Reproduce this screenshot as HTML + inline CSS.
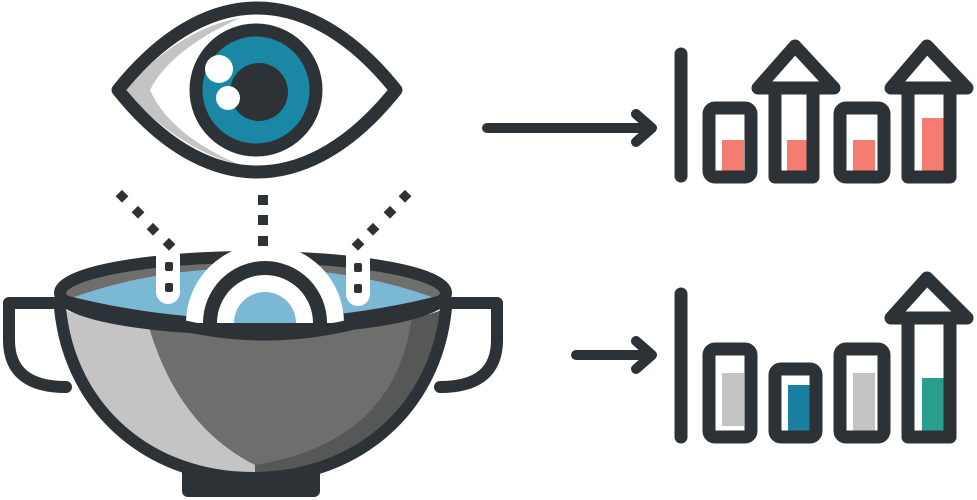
<!DOCTYPE html>
<html><head><meta charset="utf-8"><style>html,body{margin:0;padding:0;background:#fff}svg{display:block}</style></head>
<body>
<svg width="977" height="500" viewBox="0 0 977 500" xmlns="http://www.w3.org/2000/svg">
<defs>
<clipPath id="bowlc"><path d="M60,308 C70,410 150,478 253,478 C356,478 436,410 446,308 C380,340 126,340 60,308 Z"/></clipPath>
</defs>
<g stroke="#2c3236" stroke-linecap="round" stroke-linejoin="round" fill="none">
<!-- Eye -->
<path d="M118,90 C170,25 220,8 257,8 C294,8 344,25 396,90 C344,155 294,172 257,172 C220,172 170,155 118,90 Z" fill="#fff" stroke="none"/>
<path d="M125,90 C160,50 200,25 240,18 Q170,50 150,90 Q170,135 240,165 C200,155 160,130 125,90Z" fill="#c4c4c4" stroke="none"/>
<path d="M118,90 C170,25 220,8 257,8 C294,8 344,25 396,90 C344,155 294,172 257,172 C220,172 170,155 118,90 Z" stroke-width="13"/>
<circle cx="256" cy="90" r="60" fill="#1a87a5" stroke-width="13"/>
<circle cx="259" cy="92" r="29" fill="#2c3236" stroke="none"/>
<circle cx="219" cy="69" r="14" fill="#fff" stroke="none"/>
<circle cx="228" cy="98" r="12" fill="#fff" stroke="none"/>

<!-- handles -->
<path d="M62,303 H9 V340 Q9,387 66,387" stroke-width="12"/>
<path d="M444,303 H497 V340 Q497,387 440,387" stroke-width="12"/>
<!-- foot -->
<rect x="182" y="466" width="138" height="31" rx="6" fill="#2c3236" stroke="none"/>
<!-- bowl body -->
<g clip-path="url(#bowlc)" stroke="none">
<rect x="40" y="290" width="420" height="200" fill="#6e6e6c"/>
<path d="M40,290 H140 Q165,420 255,465 V490 H40Z" fill="#c4c4c4"/>
<path d="M460,290 H414 Q410,440 255,465 V490 H460Z" fill="#555856"/>
</g>
<path d="M60,308 C70,410 150,478 253,478 C356,478 436,410 446,308" stroke-width="12"/>
<!-- rim -->
<ellipse cx="253" cy="293" rx="193" ry="36" fill="#6e6e6c" stroke-width="12"/>
<path d="M66,300 Q150,268 253,268 Q356,268 440,300 Q356,330 253,330 Q150,330 66,300Z" fill="#7ab8d4" stroke="none"/>
<path d="M60,300 Q253,350 446,300" stroke-width="12"/>
<!-- center arc -->
<path d="M186,323 A79,79 0 0 1 344,323 Z" fill="#fff" stroke="none"/>
<path d="M203,323 A62,62 0 0 1 327,323 Z" fill="#2c3236" stroke="none"/>
<path d="M217,323 A48,48 0 0 1 313,323 Z" fill="#fff" stroke="none"/>
<path d="M234,323 A31,31 0 0 1 296,323 Z" fill="#7ab8d4" stroke="none"/>
<path d="M180,325 Q265,345 350,325" stroke-width="11"/>
<path d="M255,246 L265,258 L275,246 Z" fill="#fff" stroke="none"/>
<!-- pills -->
<line x1="168" y1="255" x2="168" y2="292" stroke="#fff" stroke-width="24"/>
<line x1="358" y1="255" x2="358" y2="294" stroke="#fff" stroke-width="24"/>
</g>
<!-- dots -->
<g fill="#2c3236">
<rect x="258" y="195" width="10" height="10"/><rect x="258" y="215" width="10" height="10"/><rect x="258" y="236" width="10" height="10"/>
<g transform="rotate(45 122 197)"><rect x="117" y="192" width="9" height="9"/></g>
<g transform="rotate(45 138 213)"><rect x="133" y="208" width="9" height="9"/></g>
<g transform="rotate(45 153 230)"><rect x="148" y="225" width="9" height="9"/></g>
<g transform="rotate(45 169 245)"><rect x="164" y="240" width="9" height="9"/></g>
<rect x="165" y="262" width="8" height="9" rx="2"/><rect x="165" y="283" width="8" height="9" rx="2"/>
<g transform="rotate(45 405 197)"><rect x="400" y="192" width="9" height="9"/></g>
<g transform="rotate(45 390 213)"><rect x="385" y="208" width="9" height="9"/></g>
<g transform="rotate(45 373 230)"><rect x="368" y="225" width="9" height="9"/></g>
<g transform="rotate(45 358 245)"><rect x="353" y="240" width="9" height="9"/></g>
<rect x="354" y="263" width="8" height="9" rx="2"/><rect x="354" y="284" width="8" height="9" rx="2"/>
</g>

<!-- arrows -->
<g stroke="#2c3236" stroke-width="10" stroke-linecap="round" stroke-linejoin="round" fill="none">
<line x1="487" y1="128" x2="650" y2="128"/><path d="M636,114 L652,128 L636,142"/>
<line x1="576" y1="355" x2="650" y2="355"/><path d="M636,341 L652,355 L636,369"/>
</g>

<!-- charts -->
<g fill="#f47c70">
<rect x="722" y="140" width="22" height="31"/><rect x="787" y="140" width="22" height="31"/>
<rect x="853" y="140" width="22" height="31"/><rect x="922" y="118" width="22" height="53"/>
</g>
<rect x="722" y="373" width="22" height="53" fill="#c4c4c4"/>
<rect x="788" y="385" width="22" height="46" fill="#1a7fa0"/>
<rect x="853" y="373" width="22" height="58" fill="#c4c4c4"/>
<rect x="922" y="378" width="22" height="53" fill="#2a9d8f"/>
<g stroke="#2c3236" stroke-width="13" stroke-linecap="round" stroke-linejoin="round" fill="none">
<line x1="681" y1="54" x2="681" y2="176"/>
<rect x="709" y="108" width="42" height="69" rx="6"/>
<path d="M775,90 V177 H813 V90"/><path d="M758,88 L795,46 L834,88 Z"/>
<rect x="840" y="108" width="44" height="69" rx="6"/>
<path d="M908,95 V177 H950 V90"/><path d="M891,88 L927,46 L967,88 Z"/>

<line x1="681" y1="294" x2="681" y2="437"/>
<rect x="709" y="349" width="42" height="88" rx="6"/>
<rect x="775" y="369" width="41" height="68" rx="6"/>
<rect x="840" y="349" width="44" height="88" rx="6"/>
<path d="M908,320 V437 H950 V320"/><path d="M891,318 L927,278 L967,318 Z"/>
</g>
</svg>
</body></html>
